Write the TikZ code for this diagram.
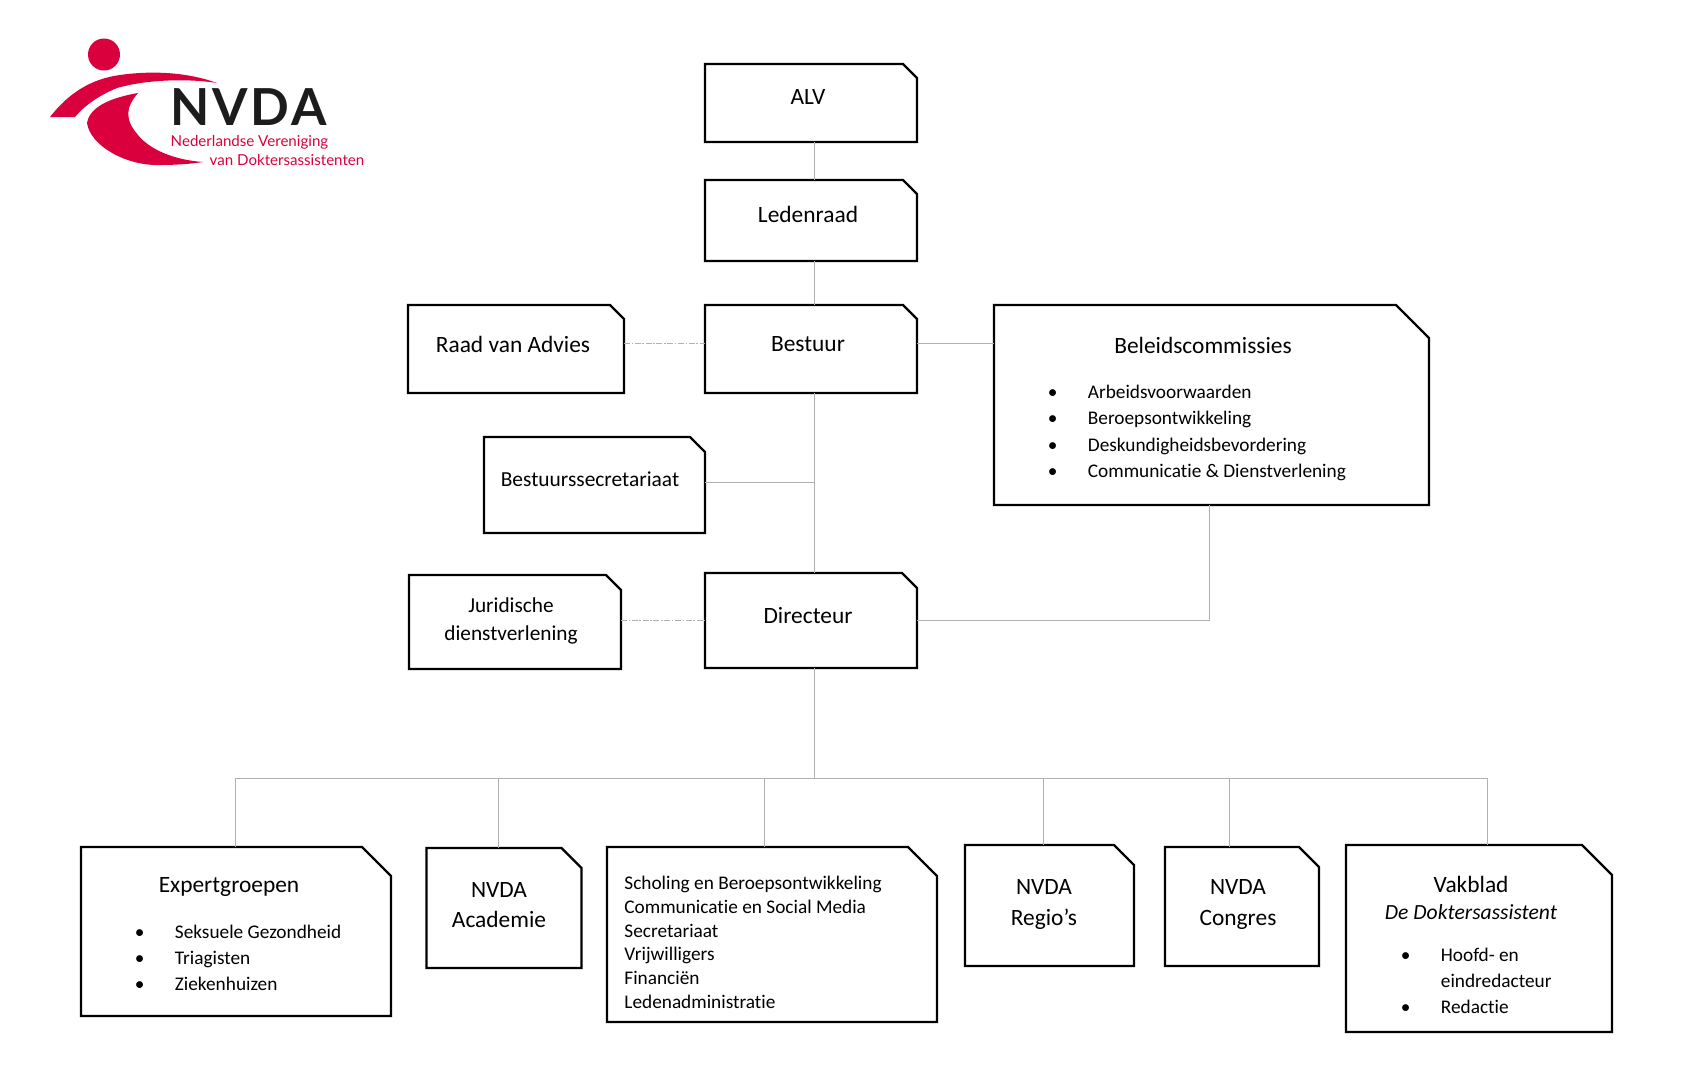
\documentclass[tikz,border=0pt]{standalone}
\usepackage{fontspec}
\setmainfont[Ligatures=NoCommon]{Carlito}
\newfontfamily\logofont{Lato}
\newfontfamily\logobold[LetterSpace=6]{Lato}
\definecolor{nvdared}{RGB}{218,0,62}
\definecolor{logoblack}{RGB}{28,28,28}
\definecolor{linkgray}{RGB}{176,176,176}
\newcommand{\itm}[1]{\makebox[20pt][l]{\textbullet}#1}
\tikzset{
    snipbox/.style 2 args={ % outline is added below, size in px
        minimum width=#1*.5pt, minimum height=#2*.5pt,
        inner sep=0pt, outer sep=0pt
    },
    snipline/.style={draw, line width=1.2pt, line join=miter},
    head/.style={font=\fontsize{11.7}{15.25}\selectfont, inner sep=0pt, align=center},
    small/.style={font=\fontsize{9.65}{13}\selectfont, inner sep=0pt, align=left},
    logosub/.style={font=\logofont\fontsize{7.55}{9}\selectfont, text=nvdared, inner sep=0pt},
    link/.style={draw=linkgray, line width=.5pt},
    thinlink/.style={draw=linkgray, line width=.35pt},
    dashlink/.style={link, dash pattern=on 3pt off .8pt on .8pt off .8pt}
}
\begin{document}
\begin{tikzpicture}[x=.5pt, y=-.5pt]
    \useasboundingbox (0,0) rectangle (1707,1072);

    % logo
    \fill[nvdared] (104,54.5) circle (16);
    \fill[nvdared] (50,117) .. controls (68,94) and (90,79) .. (120,75)
        .. controls (155,70) and (190,73) .. (217,83)
        .. controls (185,78) and (145,80) .. (117,88)
        .. controls (100,95) and (85,105) .. (75,117) -- cycle;
    \fill[nvdared] (138,93) .. controls (115,97) and (90,105) .. (87,123)
        .. controls (90,145) and (125,166) .. (160,165)
        .. controls (175,165) and (190,164) .. (203,162)
        .. controls (175,160) and (150,150) .. (138,135)
        .. controls (125,120) and (125,108) .. (138,93) -- cycle;
    \node[font=\logobold\bfseries\fontsize{25.5}{28}\selectfont, text=logoblack, inner sep=0pt] (logoname) at (248.5,107) {NVDA};
    \node[logosub] (logoline1) at (249.5,142) {Nederlandse Vereniging};
    \node[logosub] (logoline2) at (287,160) {van Doktersassistenten};

    % boxes
    \node[snipbox={212}{78}]  (alv)     at (811,103) {};
    \node[snipbox={212}{81}]  (leden)   at (811,220.5) {};
    \node[snipbox={212}{88}]  (bestuur) at (811,349) {};
    \node[snipbox={216}{88}]  (raad)    at (516,349) {};
    \node[snipbox={435}{200}] (beleid)  at (1211.5,405) {};
    \node[snipbox={221}{96}]  (secr)    at (594.5,485) {};
    \node[snipbox={212}{94}]  (jur)     at (515,622) {};
    \node[snipbox={212}{95}]  (dir)     at (811,620.5) {};
    \node[snipbox={310}{169}] (expert)  at (236,931.5) {};
    \node[snipbox={155}{120}] (acad)    at (504,908) {};
    \node[snipbox={330}{175}] (schol)   at (772,934.5) {};
    \node[snipbox={169}{121}] (regio)   at (1049.5,905.5) {};
    \node[snipbox={154}{119}] (congres) at (1242,906.5) {};
    \node[snipbox={266}{187}] (vak)     at (1479,938.5) {};

    % cut corners
    \foreach \n/\c in {alv/14,leden/14,bestuur/14,raad/14,beleid/33,secr/15,jur/15,dir/15,
                       expert/29,acad/20,schol/29,regio/20,congres/20,vak/30}
        \draw[snipline] (\n.north west) -- ([xshift=-\c*.5pt]\n.north east)
            -- ([yshift=-\c*.5pt]\n.north east) -- (\n.south east) -- (\n.south west) -- cycle;

    % labels
    \node[head] (alvT)     at (808,97)    {ALV};
    \node[head] (ledenT)   at (808,214.5) {Ledenraad};
    \node[head] (bestuurT) at (808,344)   {Bestuur};
    \node[head] (raadT)    at (513,344)   {Raad van Advies};
    \node[head] (beleidT)  at (1203,345)  {Beleidscommissies};
    \node[small, anchor=west] (beleidL1) at (1047.5,392) {\itm{Arbeidsvoorwaarden}};
    \node[small, anchor=west] (beleidL2) at (1047.5,419.5) {\itm{Beroepsontwikkeling}};
    \node[small, anchor=west] (beleidL3) at (1047.5,446) {\itm{Deskundigheidsbevordering}};
    \node[small, anchor=west] (beleidL4) at (1047.5,472.5) {\itm{Communicatie \& Dienstverlening}};
    \node[small, font=\fontsize{10.7}{13}\selectfont] (secrT) at (590,479) {Bestuurssecretariaat};
    \node[head, font=\fontsize{10.65}{14.15}\selectfont] (jurT) at (511,621) {Juridische\\dienstverlening};
    \node[head] (dirT)     at (808,616)   {Directeur};
    \node[head] (expertT)  at (229,887)   {Expertgroepen};
    \node[small, anchor=west] (expertL1) at (134.5,932) {\itm{Seksuele Gezondheid}};
    \node[small, anchor=west] (expertL2) at (134.5,959.5) {\itm{Triagisten}};
    \node[small, anchor=west] (expertL3) at (134.5,984) {\itm{Ziekenhuizen}};
    \node[head] (acadT)    at (499,905)   {NVDA\\Academie};
    \node[small, anchor=west] (schol1) at (624,884)  {Scholing en Beroepsontwikkeling};
    \node[small, anchor=west] (schol2) at (624,907)  {Communicatie en Social Media};
    \node[small, anchor=west] (schol3) at (624,931)  {Secretariaat};
    \node[small, anchor=west] (schol4) at (624,955.5)  {Vrijwilligers};
    \node[small, anchor=west] (schol5) at (624,978)  {Financiën};
    \node[small, anchor=west] (schol6) at (624,1002) {Ledenadministratie};
    \node[head] (regioT)   at (1044,904.5) {NVDA\\Regio’s};
    \node[head] (congresT) at (1238,904.5) {NVDA\\Congres};
    \node[head] (vakT)     at (1471,884)  {Vakblad};
    \node[head, font=\itshape\fontsize{10.8}{14}\selectfont] (vakS) at (1471,912.5) {De Doktersassistent};
    \node[small, anchor=west] (vakL1) at (1400.5,955)  {\itm{Hoofd- en}};
    \node[small, anchor=west] (vakL2) at (1440.5,981)  {eindredacteur};
    \node[small, anchor=west] (vakL3) at (1400.5,1007) {\itm{Redactie}};

    % connectors
    \coordinate (trunk)  at (814.5,778);
    \coordinate (rowBes) at (994,343);
    \coordinate (rowSec) at (705,482);
    \coordinate (rowDir) at (1209,620);
    \coordinate (busE) at (235.5,778);
    \coordinate (busA) at (498,778);
    \coordinate (busS) at (764,778);
    \coordinate (busR) at (1043,778);
    \coordinate (busC) at (1229,778);
    \coordinate (busV) at (1487,778);
    \draw[link] (alv.south -| trunk) -- (leden.north -| trunk);
    \draw[link] (leden.south -| trunk) -- (bestuur.north -| trunk);
    \draw[link] (bestuur.south -| trunk) -- (dir.north -| trunk);
    \draw[link] (dir.south -| trunk) -- (trunk);
    \draw[dashlink] (raad.east |- rowBes) -- (bestuur.west |- rowBes);
    \draw[link] (bestuur.east |- rowBes) -- (beleid.west |- rowBes);
    \draw[link] (secr.east |- rowSec) -- (trunk |- rowSec);
    \draw[dashlink] (jur.east |- rowDir) -- (dir.west |- rowDir);
    \draw[link] (dir.east |- rowDir) -- (rowDir) -- (rowDir |- beleid.south);
    \draw[link] (busE |- expert.north) -- (busE) -- (busV) -- (busV |- vak.north);
    \draw[thinlink] (busA) -- (busA |- acad.north);
    \draw[thinlink] (busS) -- (busS |- schol.north);
    \draw[thinlink] (busR) -- (busR |- regio.north);
    \draw[thinlink] (busC) -- (busC |- congres.north);
\end{tikzpicture}
\end{document}
